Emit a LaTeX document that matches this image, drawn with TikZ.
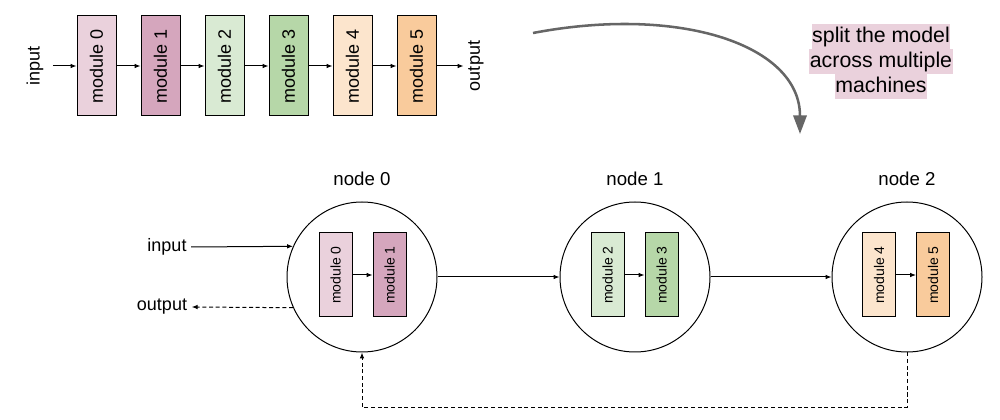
\documentclass[tikz,border=0pt]{standalone}
\usepackage{fontspec}
\setmainfont{Liberation Sans}
\usepackage{graphicx}
\usetikzlibrary{arrows.meta}

\definecolor{pinkA}{HTML}{EAD1DC}
\definecolor{pinkB}{HTML}{D5A6BD}
\definecolor{greenA}{HTML}{D9EAD3}
\definecolor{greenB}{HTML}{B6D7A8}
\definecolor{orangeA}{HTML}{FCE5CD}
\definecolor{orangeB}{HTML}{F9CB9C}
\definecolor{arrowgray}{HTML}{666666}

\newcommand{\vtext}[1]{\rotatebox{90}{#1}}

\tikzset{
  module/.style={draw, line width=0.75pt, inner sep=0pt, minimum width=29.25pt, minimum height=75pt, font=\fontsize{13.5}{16}\selectfont},
  submodule/.style={module, minimum width=24.75pt, minimum height=63pt, font=\fontsize{10.5}{12}\selectfont},
  machine/.style={draw, line width=0.75pt, circle, minimum size=112.5pt, inner sep=0pt},
  flow/.style={line width=0.75pt, -{Latex[length=4.5pt, width=3.5pt]}},
  back/.style={flow, dash pattern=on 3pt off 2pt},
  tag/.style={font=\fontsize{13.5}{16}\selectfont},
  note/.style={fill=pinkA, inner xsep=0.5pt, inner ysep=0pt, text height=12pt, text depth=3.5pt, minimum height=18.75pt, font=\fontsize{16}{18.75}\selectfont}
}

\begin{document}
\begin{tikzpicture}[x=0.75pt, y=-0.75pt]
      \useasboundingbox (0,0) rectangle (1000,420);

      % the model in one piece
      \node[tag, inner xsep=7pt] (in) at (35,66) {\vtext{input}};
      \node[module, fill=pinkA] (m0) at (96.5,66) {\vtext{module 0}};
      \node[module, fill=pinkB] (m1) at (160.5,66) {\vtext{module 1}};
      \node[module, fill=greenA] (m2) at (224.5,66) {\vtext{module 2}};
      \node[module, fill=greenB] (m3) at (288.5,66) {\vtext{module 3}};
      \node[module, fill=orangeA] (m4) at (352.5,66) {\vtext{module 4}};
      \node[module, fill=orangeB] (m5) at (416.5,66) {\vtext{module 5}};
      \node[tag] (out) at (476,66) {\vtext{output}};
      \draw[flow] (in) -- (m0);
      \draw[flow] (m0) -- (m1);
      \draw[flow] (m1) -- (m2);
      \draw[flow] (m2) -- (m3);
      \draw[flow] (m3) -- (m4);
      \draw[flow] (m4) -- (m5);
      \draw[flow] (m5) -- (out);

      % split note
      \coordinate (cs) at (533,33);
      \coordinate (ce) at (800,134);
      \draw[line width=1.9pt, arrowgray, -{Triangle[length=14pt, width=10pt]}] (cs) .. controls (680,5) and (800,45) .. (ce);
      \node[note] (split1) at (881,37) {split the model};
      \node[note] (split2) at (881,62) {across multiple};
      \node[note] (split3) at (881,87) {machines};

      % the machines
      \node[machine] (n0) at (362,277) {};
      \node[machine] (n1) at (635,277) {};
      \node[machine] (n2) at (907,277) {};
      \node[tag, font=\fontsize{14}{16}\selectfont] (t0) at (362,179) {node 0};
      \node[tag, font=\fontsize{14}{16}\selectfont] (t1) at (635,179) {node 1};
      \node[tag, font=\fontsize{14}{16}\selectfont] (t2) at (907,179) {node 2};

      \node[submodule, fill=pinkA] (s0) at (335.5,275) {\vtext{module 0}};
      \node[submodule, fill=pinkB] (s1) at (389.5,275) {\vtext{module 1}};
      \node[submodule, fill=greenA] (s2) at (607.5,275) {\vtext{module 2}};
      \node[submodule, fill=greenB] (s3) at (661.5,275) {\vtext{module 3}};
      \node[submodule, fill=orangeA] (s4) at (879,275) {\vtext{module 4}};
      \node[submodule, fill=orangeB] (s5) at (933,275) {\vtext{module 5}};
      \draw[flow] (s0) -- (s1);
      \draw[flow] (s2) -- (s3);
      \draw[flow] (s4) -- (s5);

      \node[tag] (in0) at (167,247) {input};
      \node[tag] (out0) at (162,307) {output};
      \draw[flow] (in0.east) -- (n0.156);
      \draw[back] (n0.204) -- (out0.east);
      \draw[flow] (n0) -- (n1);
      \draw[flow] (n1) -- (n2);
      \coordinate (loop) at (0,407);
      \draw[back] (n2.south) -- (n2.south |- loop) -| (n0.south);
\end{tikzpicture}
\end{document}
